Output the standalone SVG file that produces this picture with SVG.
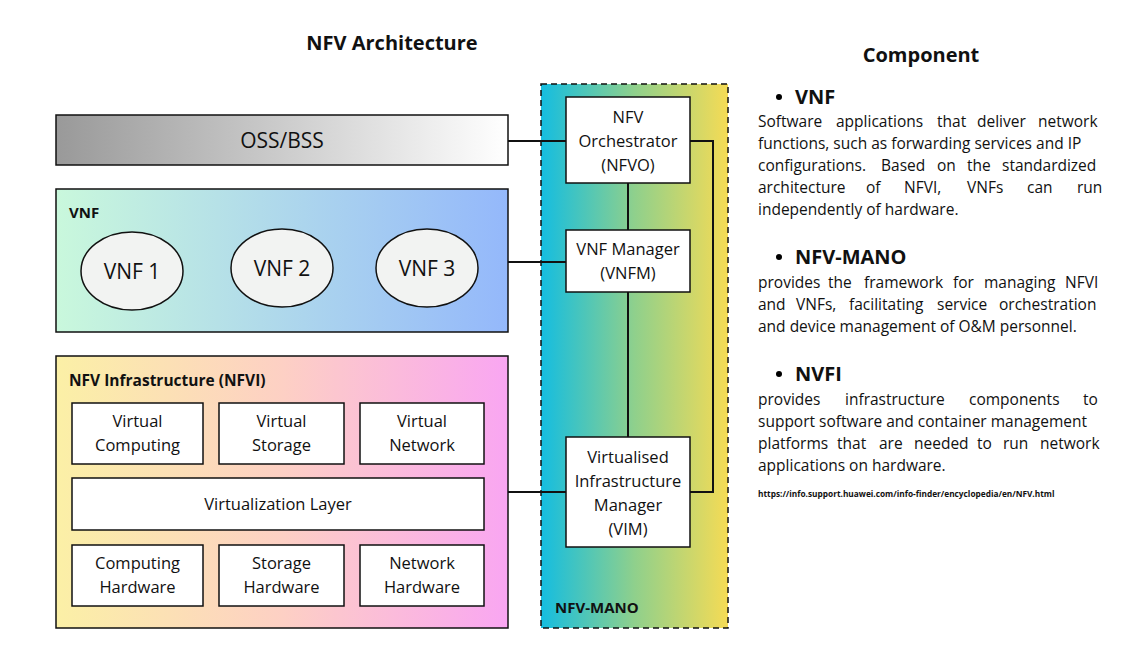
<svg xmlns="http://www.w3.org/2000/svg" width="1121" height="660" viewBox="0 0 1121 660">
<style>
text{font-family:"Open Sans","Noto Sans",sans-serif;fill:#111}
.box{fill:#fff;stroke:#111;stroke-width:1.5}
.b{font-weight:bold}
.c{text-anchor:middle;font-size:16.5px}
.p{font-size:15.5px}
.ln{stroke:#111;stroke-width:2;fill:none}
</style>
<defs>
<linearGradient id="gOss"><stop offset="0" stop-color="#999"/><stop offset="1" stop-color="#fff"/></linearGradient>
<linearGradient id="gVnf"><stop offset="0" stop-color="#c9f8dc"/><stop offset="1" stop-color="#94b8fb"/></linearGradient>
<linearGradient id="gNfvi"><stop offset="0" stop-color="#fbf0a6"/><stop offset="0.5" stop-color="#fdd0c4"/><stop offset="1" stop-color="#f9a6f2"/></linearGradient>
<linearGradient id="gMano"><stop offset="0" stop-color="#14bde0"/><stop offset="0.5" stop-color="#8fd08c"/><stop offset="1" stop-color="#f5db55"/></linearGradient>
</defs>
<text x="392" y="50" text-anchor="middle" class="b" font-size="20">NFV Architecture</text>
<text x="921" y="62" text-anchor="middle" class="b" font-size="20">Component</text>

<g id="mano"><rect x="541" y="84" width="187" height="544" fill="url(#gMano)" stroke="#111" stroke-width="1.5" stroke-dasharray="6,4"/>
<text x="555" y="613" class="b" font-size="15">NFV-MANO</text></g>

<g id="oss"><rect x="56" y="115" width="452" height="50" fill="url(#gOss)" stroke="#111" stroke-width="1.5"/>
<text x="282" y="148" text-anchor="middle" font-size="21">OSS/BSS</text></g>

<g id="vnf"><rect x="56" y="189" width="452" height="143" fill="url(#gVnf)" stroke="#111" stroke-width="1.5"/>
<text x="69" y="218" class="b" font-size="15">VNF</text></g>
<g id="vnf1"><ellipse cx="132" cy="271" rx="51" ry="39" fill="#f2f3f2" stroke="#111" stroke-width="1.5"/><text x="132" y="279" text-anchor="middle" font-size="21">VNF 1</text></g>
<g id="vnf2"><ellipse cx="282" cy="268" rx="51" ry="39" fill="#f2f3f2" stroke="#111" stroke-width="1.5"/><text x="282" y="276" text-anchor="middle" font-size="21">VNF 2</text></g>
<g id="vnf3"><ellipse cx="427" cy="268" rx="51" ry="39" fill="#f2f3f2" stroke="#111" stroke-width="1.5"/><text x="427" y="276" text-anchor="middle" font-size="21">VNF 3</text></g>

<g id="nfvi"><rect x="56" y="356" width="452" height="272" fill="url(#gNfvi)" stroke="#111" stroke-width="1.5"/>
<text x="69" y="386" class="b" font-size="15.5">NFV Infrastructure (NFVI)</text></g>
<g id="vc"><rect class="box" x="72" y="403" width="131" height="61"/><text class="c" x="137.5" y="427">Virtual</text><text class="c" x="137.5" y="451">Computing</text></g>
<g id="vs"><rect class="box" x="219" y="403" width="125" height="61"/><text class="c" x="281.5" y="427">Virtual</text><text class="c" x="281.5" y="451">Storage</text></g>
<g id="vn"><rect class="box" x="360" y="403" width="124" height="61"/><text class="c" x="422" y="427">Virtual</text><text class="c" x="422" y="451">Network</text></g>
<g id="vl"><rect class="box" x="72" y="478" width="412" height="52"/><text class="c" x="278" y="510">Virtualization Layer</text></g>
<g id="ch"><rect class="box" x="72" y="545" width="131" height="61"/><text class="c" x="137.5" y="569">Computing</text><text class="c" x="137.5" y="593">Hardware</text></g>
<g id="sh"><rect class="box" x="219" y="545" width="125" height="61"/><text class="c" x="281.5" y="569">Storage</text><text class="c" x="281.5" y="593">Hardware</text></g>
<g id="nh"><rect class="box" x="360" y="545" width="124" height="61"/><text class="c" x="422" y="569">Network</text><text class="c" x="422" y="593">Hardware</text></g>

<g id="connectors">
<path class="ln" d="M508 141H566M508 262H566M508 492H566M628 183V230M628 292V437M690 141H713V492H690"/>
</g>

<g id="nfvo"><rect class="box" x="566" y="97" width="124" height="86"/><text class="c" x="628" y="123">NFV</text><text class="c" x="628" y="147">Orchestrator</text><text class="c" x="628" y="171">(NFVO)</text></g>
<g id="vnfm"><rect class="box" x="566" y="230" width="124" height="62"/><text class="c" x="628" y="255">VNF Manager</text><text class="c" x="628" y="279">(VNFM)</text></g>
<g id="vim"><rect class="box" x="566" y="437" width="124" height="110"/><text class="c" x="628" y="463">Virtualised</text><text class="c" x="628" y="487">Infrastructure</text><text class="c" x="628" y="511">Manager</text><text class="c" x="628" y="535">(VIM)</text></g>

<g id="desc">
<circle cx="779" cy="97" r="3"/><text x="795" y="104" class="b" font-size="20">VNF</text>
<text class="p" y="127"><tspan x="758">Software</tspan><tspan x="836">applications</tspan><tspan x="937">that</tspan><tspan x="977">deliver</tspan><tspan x="1038">network</tspan></text>
<text class="p" x="758" y="149">functions, such as forwarding services and IP</text>
<text class="p" y="171"><tspan x="758">configurations.</tspan><tspan x="881">Based</tspan><tspan x="937">on</tspan><tspan x="967">the</tspan><tspan x="1002">standardized</tspan></text>
<text class="p" y="193"><tspan x="758">architecture</tspan><tspan x="866">of</tspan><tspan x="904">NFVI,</tspan><tspan x="967">VNFs</tspan><tspan x="1027">can</tspan><tspan x="1077">run</tspan></text>
<text class="p" x="758" y="215">independently of hardware.</text>
<circle cx="779" cy="257" r="3"/><text x="795" y="264" class="b" font-size="20">NFV-MANO</text>
<text class="p" y="288"><tspan x="758">provides</tspan><tspan x="828">the</tspan><tspan x="864">framework</tspan><tspan x="953">for</tspan><tspan x="984">managing</tspan><tspan x="1065">NFVI</tspan></text>
<text class="p" y="310"><tspan x="758">and</tspan><tspan x="796">VNFs,</tspan><tspan x="849">facilitating</tspan><tspan x="937">service</tspan><tspan x="999">orchestration</tspan></text>
<text class="p" x="758" y="332">and device management of O&amp;M personnel.</text>
<circle cx="779" cy="374" r="3"/><text x="795" y="381" class="b" font-size="20">NVFI</text>
<text class="p" y="405"><tspan x="758">provides</tspan><tspan x="845">infrastructure</tspan><tspan x="969">components</tspan><tspan x="1083">to</tspan></text>
<text class="p" x="758" y="427">support software and container management</text>
<text class="p" y="449"><tspan x="758">platforms</tspan><tspan x="837">that</tspan><tspan x="879">are</tspan><tspan x="914">needed</tspan><tspan x="977">to</tspan><tspan x="1003">run</tspan><tspan x="1040">network</tspan></text>
<text class="p" x="758" y="471">applications on hardware.</text>
<text x="758" y="497" class="b" font-size="8.3">https://info.support.huawei.com/info-finder/encyclopedia/en/NFV.html</text>
</g>
</svg>
